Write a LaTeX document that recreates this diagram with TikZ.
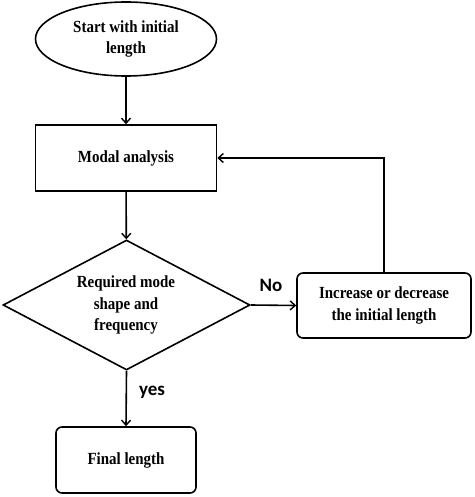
\documentclass[tikz,border=0pt]{standalone}
\usepackage{fontspec}
\setmainfont{Liberation Serif}
\newfontfamily\boxfont[FakeStretch=0.88]{Liberation Serif}
\newfontfamily\lblfont{Carlito}
\usetikzlibrary{shapes.geometric,arrows.meta}
\begin{document}
\begin{tikzpicture}[x=1pt,y=-1pt,
  line width=1.6pt,
  every node/.style={font=\boxfont\fontsize{17}{21.7}\selectfont\bfseries, align=center},
  arr/.style={-{Straight Barb[length=5pt,width=9pt,line width=1.4pt]}},
  lbl/.style={font=\lblfont\fontsize{19}{21}\selectfont\bfseries}]
\useasboundingbox (0,0) rectangle (474,497);
\node[draw, ellipse, minimum width=181pt, minimum height=74pt, inner sep=0pt] (start) at (126,39) {Start with initial\\length};
\node[draw, rectangle, minimum width=181pt, minimum height=66pt, inner sep=0pt] (modal) at (126,158) {Modal analysis};
\node[draw, diamond, aspect=1.9, minimum width=247pt, minimum height=130pt, inner sep=0pt] (dec) at (126.5,305) {};
\node at (126,305) {Required mode\\shape and\\frequency};
\node[draw, rounded corners=6pt, minimum width=174pt, minimum height=65pt, inner sep=0pt] (inc) at (384,305.5) {Increase or decrease\\the initial length};
\node[draw, rounded corners=6pt, minimum width=140pt, minimum height=66pt, inner sep=0pt] (fin) at (126,460) {Final length};
\draw[arr] (start) -- (modal);
\draw[arr] (modal) -- (dec);
\draw[arr] (dec.east) -- (inc.west);
\draw[arr] (dec.south) -- (fin.north);
\draw[arr] (inc.north) |- (modal.east);
\node[lbl] (no) at (271,285) {No};
\node[lbl] (yes) at (152,392) {yes};
\end{tikzpicture}
\end{document}
